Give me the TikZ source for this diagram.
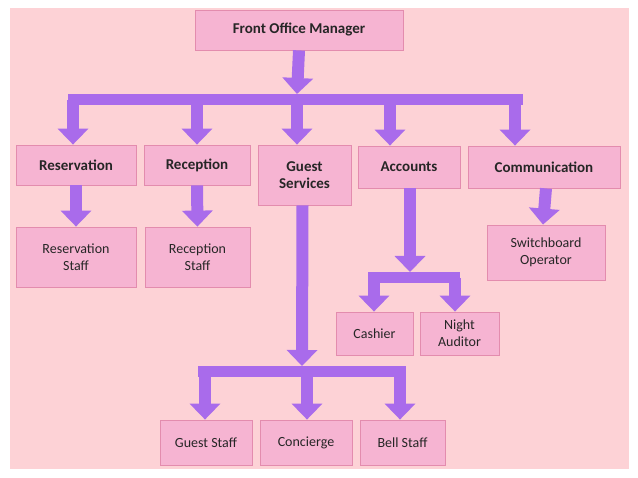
\documentclass[tikz,border=0pt]{standalone}
\usepackage{fontspec}
\setmainfont{Carlito}
\usetikzlibrary{arrows.meta}
\definecolor{bgpink}{HTML}{FDD2D6}
\definecolor{boxpink}{HTML}{F6B4D2}
\definecolor{boxline}{HTML}{E38CAE}
\definecolor{arr}{HTML}{A96BEB}
\begin{document}
\begin{tikzpicture}[x=1pt,y=-1pt,
  box/.style={draw=boxline,line width=0.8pt,fill=boxpink,inner sep=0pt,align=center,text=black!85},
  bx/.style={box,font=\bfseries\fontsize{15}{17}\selectfont},
  lf/.style={box,font=\fontsize{14}{17}\selectfont},
  arw/.style={draw=arr,line width=12pt,-{Triangle[width=30pt,length=16pt]}},
  bar/.style={draw=arr,line width=11pt}]
\useasboundingbox (0,0) rectangle (638,478);
\fill[bgpink] (10,8) rectangle (629,469);
\newcommand{\bnode}[6]{\node[#1,minimum width=#4-#3,minimum height=#6-#5] (#2) at ({(#3+#4)/2},{(#5+#6)/2})}
\bnode{bx}{fom}{195}{403}{10}{50} {Front Office Manager};
\bnode{bx}{res}{16}{136}{145}{185} {Reservation};
\bnode{bx}{rec}{144}{250}{145}{185} {Reception};
\bnode{bx}{gs}{258}{351}{145}{205} {Guest\\Services};
\bnode{bx}{acc}{358}{460}{146}{188} {Accounts};
\bnode{bx}{com}{468}{620}{146}{188} {Communication};
\bnode{lf}{ress}{16}{136}{227}{287} {Reservation\\Staff};
\bnode{lf}{recs}{145}{250}{227}{287} {Reception\\Staff};
\bnode{lf}{sw}{487}{605}{225}{280} {Switchboard\\Operator};
\bnode{lf}{cash}{336}{413}{312}{355} {Cashier};
\bnode{lf}{night}{420}{499}{312}{355} {Night\\Auditor};
\bnode{lf}{gst}{160}{252}{420}{465} {Guest Staff};
\bnode{lf}{con}{260}{352}{420}{465} {Concierge};
\bnode{lf}{bell}{360}{445}{420}{465} {Bell Staff};
% main bar
\coordinate (b1) at (68,100); \coordinate (b2) at (523,100);
\draw[bar] (b1) -- (b2);
\draw[arw] (fom.south) -- (297,94);
\foreach \xx/\n in {73/res,197/rec,297/gs,390/acc,515/com}
  \draw[arw] (\xx,100) -- (\xx,100 |- \n.north);
\draw[arw] (res.south) -- (ress.north);
\draw[arw] (rec.south) -- (recs.north);
\draw[arw] ([xshift=2pt]com.south) -- ([xshift=-3pt]sw.north);
% accounts
\coordinate (a1) at (368,278); \coordinate (a2) at (460,278);
\draw[bar] (a1) -- (a2);
\draw[arw] ([xshift=1pt]acc.south) -- (410,272);
\draw[arw] (374,278) -- (374,278 |- cash.north);
\draw[arw] (455,278) -- (455,278 |- night.north);
% guest services
\coordinate (g1) at (198,372); \coordinate (g2) at (406,372);
\draw[bar] (g1) -- (g2);
\draw[arw] ([xshift=-2pt]gs.south) -- (302,366);
\draw[arw] (205,372) -- (205,372 |- gst.north);
\draw[arw] (307,372) -- (307,372 |- con.north);
\draw[arw] (400,372) -- (400,372 |- bell.north);
\end{tikzpicture}
\end{document}
